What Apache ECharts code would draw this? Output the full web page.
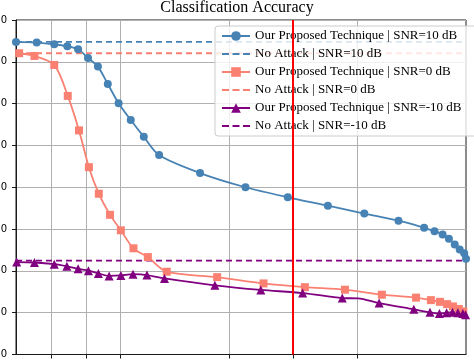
<!DOCTYPE html>
<html>
<head>
<meta charset="utf-8">
<script src="https://cdn.jsdelivr.net/npm/echarts@6/dist/echarts.min.js"></script>
<style>html,body{margin:0;padding:0;background:#fff;}#c{width:474px;height:360px;}</style>
</head>
<body>
<div id="c"></div>
<script>
// ---- data ----
const titleText = 'Classification Accuracy';
const seriesNames = [
  'Our Proposed Technique | SNR=10 dB',
  'No Attack | SNR=10 dB',
  'Our Proposed Technique | SNR=0 dB',
  'No Attack | SNR=0 dB',
  'Our Proposed Technique | SNR=-10 dB',
  'No Attack | SNR=-10 dB'
];
const blueX = [0, 4.6, 8.5, 11.4, 13.8, 16.0, 18.2, 20.4, 22.8, 25.5, 28.4, 31.8, 40.9, 51.0, 60.4, 69.3, 77.4, 85.0, 90.7, 93.0, 94.8, 96.2, 97.5, 98.6, 99.6, 100];
const blueY = [94.75, 94.6, 94.2, 93.7, 93.0, 90.9, 88.85, 84.7, 80.1, 76.1, 72.1, 67.7, 63.4, 60.0, 57.6, 55.6, 53.7, 52.0, 50.3, 49.5, 48.7, 47.7, 46.3, 45.1, 44.2, 42.9];
const orangeX = [0.7, 4.1, 8.5, 11.5, 14.0, 16.2, 18.4, 20.9, 23.3, 26.1, 29.3, 33.5, 44.7, 55.0, 64.2, 73.1, 81.3, 88.9, 92.2, 94.2, 95.8, 97.1, 98.4, 99.4];
const orangeY = [92.05, 91.4, 89.25, 81.85, 73.6, 64.8, 58.45, 53.4, 49.7, 45.4, 43.3, 39.8, 38.5, 37.0, 36.1, 35.5, 34.3, 33.6, 33.0, 32.6, 32.05, 31.5, 30.9, 30.3];
const purpleX = [0.15, 4.1, 8.5, 11.3, 13.8, 16.1, 18.3, 20.7, 23.3, 26.0, 29.1, 33.0, 44.2, 54.4, 63.7, 72.5, 76.0, 80.7, 88.4, 92.0, 94.1, 95.7, 97.0, 98.2, 99.3, 99.9];
const purpleY = [42.1, 42.0, 41.6, 41.1, 40.5, 40.05, 39.4, 38.8, 38.9, 39.2, 39.0, 38.2, 36.55, 35.45, 34.7, 33.5, 33.4, 32.3, 30.8, 30.1, 29.8, 30.0, 30.1, 30.0, 29.8, 29.5];
const purpleNoMarker = [16];
const noAttackY = [94.75, 92.05, 42.45];
const xRange = [0, 100];
const gridX = [7.8, 15.6, 23.1, 47.3, 61.6, 75.8];
const redX = 61.6;
const yTicks = [20, 30, 40, 50, 60, 70, 80, 90, 100];

// ---- build ----
const colors = { blue: '#4682b4', orange: '#fa8072', purple: '#800080' };
function pairs(xs, ys, noMark) {
  return xs.map((x, i) => (noMark && noMark.indexOf(i) >= 0)
    ? { value: [x, ys[i]], symbol: 'none' } : [x, ys[i]]);
}
function flat(v) { return [[xRange[0], v], [xRange[1], v]]; }
const serif = 'Liberation Serif';
const dashIcon = 'path://M0,0L0.01,0M0,12L0.01,12M0,5h7v2h-7zM10.5,5h7v2h-7zM21,5h7v2h-7z';

const chart = echarts.init(document.getElementById('c'), null, { renderer: 'canvas' });
chart.setOption({
  animation: false,
  backgroundColor: '#fff',
  title: {
    text: titleText, left: 'center', top: -5,
    textStyle: { fontFamily: serif, fontSize: 16, fontWeight: 'normal', color: '#000' }
  },
  grid: { left: 16, right: 8, top: 20, bottom: 5.5, containLabel: false, outerBoundsMode: 'none',
    show: true, borderColor: '#1a1a1a', borderWidth: 1, backgroundColor: 'transparent' },
  legend: {
    orient: 'vertical', left: 215, top: 26,
    data: seriesNames.map((n, i) => i % 2 === 1 ? { name: n, icon: dashIcon } : { name: n }),
    itemWidth: 28, itemHeight: 12, itemGap: 4,
    textStyle: { fontFamily: serif, fontSize: 13, lineHeight: 14, color: '#000' },
    backgroundColor: 'rgba(255,255,255,0.8)', borderColor: '#cccccc', borderWidth: 1, borderRadius: 3,
    padding: [3, 30, 3, 6]
  },
  xAxis: {
    type: 'value', min: xRange[0], max: xRange[1],
    axisLine: { show: true, lineStyle: { color: '#1a1a1a', width: 1 } },
    axisTick: { show: true, customValues: gridX, length: 4, lineStyle: { color: '#1a1a1a' } },
    axisLabel: { show: true, customValues: gridX, color: '#000', fontSize: 10, margin: 8 },
    splitLine: { show: true, lineStyle: { color: '#b0b0b0', width: 1 } }
  },
  yAxis: {
    type: 'value', min: yTicks[0], max: yTicks[yTicks.length - 1], interval: 10,
    axisLine: { show: true, lineStyle: { color: '#1a1a1a', width: 1 } },
    axisTick: { show: true, length: 4, lineStyle: { color: '#1a1a1a' } },
    axisLabel: { color: '#000', fontFamily: 'DejaVu Sans', fontSize: 10, margin: 9 },
    splitLine: { show: true, lineStyle: { color: '#b0b0b0', width: 1 } }
  },
  series: [
    { name: seriesNames[0], type: 'line', data: pairs(blueX, blueY), smooth: 0.3,
      symbol: 'circle', symbolSize: 8, color: colors.blue, lineStyle: { width: 1.8 }, z: 3,
      markLine: { silent: true, symbol: 'none', label: { show: false },
        lineStyle: { color: '#ff0000', width: 2, type: 'solid' }, data: [{ xAxis: redX }] } },
    { name: seriesNames[1], type: 'line', data: flat(noAttackY[0]), symbol: 'none', showSymbol: false,
      color: colors.blue, lineStyle: { width: 1.8, type: [6, 4] } },
    { name: seriesNames[2], type: 'line', data: pairs(orangeX, orangeY), smooth: 0.3,
      symbol: 'rect', symbolSize: 8, color: colors.orange, lineStyle: { width: 1.8 }, z: 3 },
    { name: seriesNames[3], type: 'line', data: flat(noAttackY[1]), symbol: 'none', showSymbol: false,
      color: colors.orange, lineStyle: { width: 1.8, type: [6, 4] } },
    { name: seriesNames[4], type: 'line', data: pairs(purpleX, purpleY, purpleNoMarker), smooth: 0.3,
      symbol: 'triangle', symbolSize: 9, color: colors.purple, lineStyle: { width: 1.8 }, z: 3 },
    { name: seriesNames[5], type: 'line', data: flat(noAttackY[2]), symbol: 'none', showSymbol: false,
      color: colors.purple, lineStyle: { width: 1.8, type: [6, 4] } }
  ]
});
</script>
</body>
</html>
